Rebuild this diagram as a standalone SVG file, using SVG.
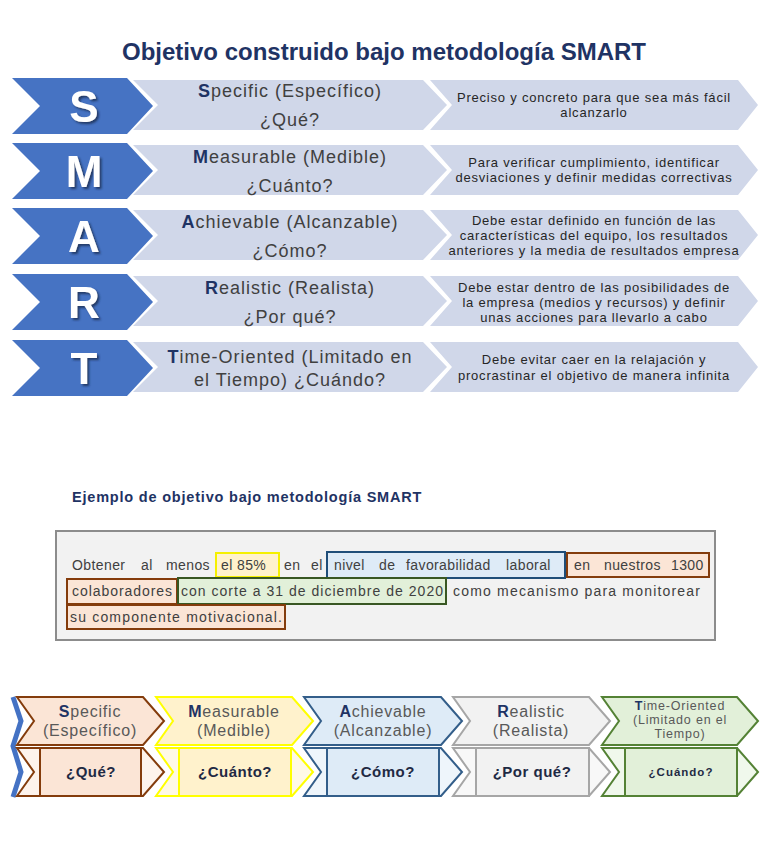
<svg xmlns="http://www.w3.org/2000/svg" width="768" height="866" viewBox="0 0 768 866">
<defs>
<filter id="sh" x="-30%" y="-30%" width="160%" height="160%"><feDropShadow dx="2" dy="2" stdDeviation="1" flood-color="#1a2a50" flood-opacity="0.8"/></filter>
<style>
text{font-family:"Liberation Sans",Arial,sans-serif}
.title{font-size:24px;font-weight:bold;fill:#1F3364}
.blue{fill:#4673C3}
.light{fill:#D0D7E9}
.big{font-size:44px;font-weight:bold;fill:#fff;text-anchor:middle}
.mid{font-size:18px;fill:#404040;text-anchor:middle;letter-spacing:1px}
.ini{font-weight:bold;fill:#1F3364}
.desc{font-size:13px;fill:#262626;text-anchor:middle;letter-spacing:0.8px}
.h2{font-size:14.5px;font-weight:bold;fill:#1F3364;letter-spacing:0.8px}
.ex{font-size:14px;fill:#404040}
.w{letter-spacing:0.4px}
.hl{stroke-width:2}
.lab{font-size:16px;fill:#595959;text-anchor:middle;letter-spacing:0.8px}
.lab2{font-size:12.5px;fill:#595959;text-anchor:middle;letter-spacing:0.8px}
.q{font-size:15px;font-weight:bold;fill:#1F2A44;text-anchor:middle;letter-spacing:0.5px}
.cs{stroke-width:2}
</style>
</defs>
<rect width="768" height="866" fill="#fff"/>
<text class="title" x="384" y="60" text-anchor="middle">Objetivo construido bajo metodología SMART</text>

<g id="row-S">
<polygon class="blue" points="12,78 127,78 153,106 127,134 12,134 40,106"/>
<text class="big" x="84" y="122" filter="url(#sh)">S</text>
<polygon class="light" points="133,80 423,80 447,105 423,130 133,130 158,105"/>
<text class="mid" x="290" y="97"><tspan class="ini">S</tspan>pecific (Específico)</text>
<text class="mid" x="290" y="126">¿Qué?</text>
<polygon class="light" points="430,80 738,80 758,105 738,130 430,130 452,105"/>
<text class="desc" x="594" y="102">Preciso y concreto para que sea más fácil</text>
<text class="desc" x="594" y="117">alcanzarlo</text>
</g>

<g id="row-M">
<polygon class="blue" points="12,143 127,143 153,171 127,199 12,199 40,171"/>
<text class="big" x="84" y="187" filter="url(#sh)">M</text>
<polygon class="light" points="133,145 423,145 447,170 423,195 133,195 158,170"/>
<text class="mid" x="290" y="163"><tspan class="ini">M</tspan>easurable (Medible)</text>
<text class="mid" x="290" y="192">¿Cuánto?</text>
<polygon class="light" points="430,145 738,145 758,170 738,195 430,195 452,170"/>
<text class="desc" x="594" y="167">Para verificar cumplimiento, identificar</text>
<text class="desc" x="594" y="182">desviaciones y definir medidas correctivas</text>
</g>

<g id="row-A">
<polygon class="blue" points="12,208 127,208 153,236 127,264 12,264 40,236"/>
<text class="big" x="84" y="252" filter="url(#sh)">A</text>
<polygon class="light" points="133,210 423,210 447,235 423,260 133,260 158,235"/>
<text class="mid" x="290" y="228"><tspan class="ini">A</tspan>chievable (Alcanzable)</text>
<text class="mid" x="290" y="257">¿Cómo?</text>
<polygon class="light" points="430,210 738,210 758,235 738,260 430,260 452,235"/>
<text class="desc" x="594" y="225">Debe estar definido en función de las</text>
<text class="desc" x="594" y="240">características del equipo, los resultados</text>
<text class="desc" x="594" y="255">anteriores y la media de resultados empresa</text>
</g>

<g id="row-R">
<polygon class="blue" points="12,274 127,274 153,302 127,330 12,330 40,302"/>
<text class="big" x="84" y="318" filter="url(#sh)">R</text>
<polygon class="light" points="133,276 423,276 447,301 423,326 133,326 158,301"/>
<text class="mid" x="290" y="294"><tspan class="ini">R</tspan>ealistic (Realista)</text>
<text class="mid" x="290" y="323">¿Por qué?</text>
<polygon class="light" points="430,276 738,276 758,301 738,326 430,326 452,301"/>
<text class="desc" x="594" y="292">Debe estar dentro de las posibilidades de</text>
<text class="desc" x="594" y="307">la empresa (medios y recursos) y definir</text>
<text class="desc" x="594" y="322">unas acciones para llevarlo a cabo</text>
</g>

<g id="row-T">
<polygon class="blue" points="12,340 127,340 153,368 127,396 12,396 40,368"/>
<text class="big" x="84" y="384" filter="url(#sh)">T</text>
<polygon class="light" points="133,342 423,342 447,367 423,392 133,392 158,367"/>
<text class="mid" x="290" y="363"><tspan class="ini">T</tspan>ime-Oriented (Limitado en</text>
<text class="mid" x="290" y="386">el Tiempo) ¿Cuándo?</text>
<polygon class="light" points="430,342 738,342 758,367 738,392 430,392 452,367"/>
<text class="desc" x="594" y="364">Debe evitar caer en la relajación y</text>
<text class="desc" x="594" y="380">procrastinar el objetivo de manera infinita</text>
</g>

<g id="example">
<text class="h2" x="72" y="502">Ejemplo de objetivo bajo metodología SMART</text>
<rect x="56" y="531" width="659" height="109" fill="#F2F2F2" stroke="#8C8C8C" stroke-width="2"/>
<rect class="hl" x="216" y="553" width="63" height="24" fill="#FFF2CC" stroke="#F5F000"/>
<rect class="hl" x="327" y="552" width="238" height="26" fill="#DEEBF7" stroke="#1F4E79"/>
<rect class="hl" x="567" y="553" width="142" height="24" fill="#FBE5D6" stroke="#843C0C"/>
<rect class="hl" x="67" y="579" width="110" height="25" fill="#FBE5D6" stroke="#843C0C"/>
<rect class="hl" x="178" y="578" width="268" height="26" fill="#E2F0D9" stroke="#385723"/>
<rect class="hl" x="67" y="605" width="218" height="24" fill="#FBE5D6" stroke="#843C0C"/>
<text class="ex w" y="570"><tspan x="72">Obtener</tspan><tspan x="141">al</tspan><tspan x="166">menos</tspan><tspan x="221">el 85%</tspan><tspan x="284">en</tspan><tspan x="311">el</tspan><tspan x="334">nivel</tspan><tspan x="379">de</tspan><tspan x="406">favorabilidad</tspan><tspan x="506">laboral</tspan><tspan x="574">en</tspan><tspan x="604">nuestros</tspan><tspan x="671">1300</tspan></text>
<text class="ex" x="72" y="596" textLength="100" lengthAdjust="spacing">colaboradores</text>
<text class="ex" x="181" y="596" textLength="262" lengthAdjust="spacing">con corte a 31 de diciembre de 2020</text>
<text class="ex" x="453" y="596" textLength="247" lengthAdjust="spacing">como mecanismo para monitorear</text>
<text class="ex" x="70" y="622" textLength="212" lengthAdjust="spacing">su componente motivacional.</text>
</g>

<g id="left-strip">
<polyline points="13,697 21,721 13,746 21,772 13,797" fill="none" stroke="#4472C4" stroke-width="5"/>
</g>

<g id="chev-S">
<polygon class="cs" points="17,697 143,697 164,721 143,745 17,745 34,721" fill="#FBE5D6" stroke="#843C0C"/>
<text class="lab" x="90" y="717"><tspan class="ini">S</tspan>pecific</text>
<text class="lab" x="90" y="736">(Específico)</text>
<polygon class="cs" points="17,748 143,748 164,772 143,796 17,796 34,772" fill="#FDF3EC" stroke="#843C0C"/>
<rect class="cs" x="40" y="748" width="101" height="48" fill="#FBE5D6" stroke="#843C0C"/>
<text class="q" x="91" y="777">¿Qué?</text>
</g>

<g id="chev-M">
<polygon class="cs" points="156,697 292,697 313,721 292,745 156,745 173,721" fill="#FFF2CC" stroke="#FFFF00"/>
<text class="lab" x="234" y="717"><tspan class="ini">M</tspan>easurable</text>
<text class="lab" x="234" y="736">(Medible)</text>
<polygon class="cs" points="156,748 292,748 313,772 292,796 156,796 173,772" fill="#FFF9E6" stroke="#FFFF00"/>
<rect class="cs" x="179" y="748" width="112" height="48" fill="#FFF2CC" stroke="#FFFF00"/>
<text class="q" x="235" y="777">¿Cuánto?</text>
</g>

<g id="chev-A">
<polygon class="cs" points="304,697 441,697 462,721 441,745 304,745 321,721" fill="#DEEBF7" stroke="#335E8A"/>
<text class="lab" x="383" y="717"><tspan class="ini">A</tspan>chievable</text>
<text class="lab" x="383" y="736">(Alcanzable)</text>
<polygon class="cs" points="304,748 441,748 462,772 441,796 304,796 321,772" fill="#EEF5FB" stroke="#335E8A"/>
<rect class="cs" x="327" y="748" width="112" height="48" fill="#DEEBF7" stroke="#335E8A"/>
<text class="q" x="383" y="777">¿Cómo?</text>
</g>

<g id="chev-R">
<polygon class="cs" points="453,697 589,697 610,721 589,745 453,745 470,721" fill="#F2F2F2" stroke="#A6A6A6"/>
<text class="lab" x="531" y="717"><tspan class="ini">R</tspan>ealistic</text>
<text class="lab" x="531" y="736">(Realista)</text>
<polygon class="cs" points="453,748 589,748 610,772 589,796 453,796 470,772" fill="#F8F8F8" stroke="#A6A6A6"/>
<rect class="cs" x="476" y="748" width="113" height="48" fill="#F2F2F2" stroke="#A6A6A6"/>
<text class="q" x="532" y="777">¿Por qué?</text>
</g>

<g id="chev-T">
<polygon class="cs" points="602,697 737,697 758,721 737,745 602,745 619,721" fill="#E2F0D9" stroke="#548235"/>
<text class="lab2" x="680" y="710"><tspan class="ini">T</tspan>ime-Oriented</text>
<text class="lab2" x="680" y="724">(Limitado en el</text>
<text class="lab2" x="680" y="738">Tiempo)</text>
<polygon class="cs" points="602,748 737,748 758,772 737,796 602,796 619,772" fill="#F0F8EC" stroke="#548235"/>
<rect class="cs" x="625" y="748" width="112" height="48" fill="#E2F0D9" stroke="#548235"/>
<text class="q" x="681" y="776" style="font-size:11.5px;letter-spacing:1px">¿Cuándo?</text>
</g>
</svg>
